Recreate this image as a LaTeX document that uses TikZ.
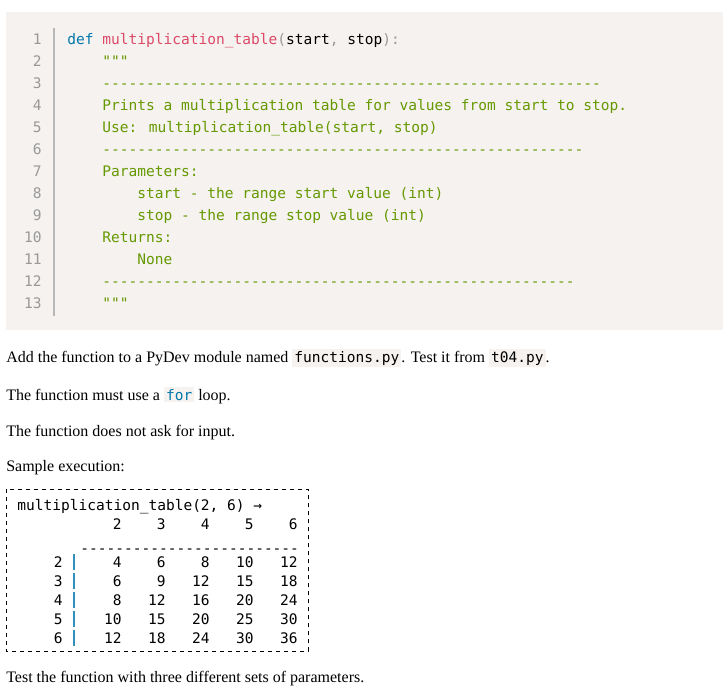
\documentclass[tikz,border=0pt]{standalone}
\usepackage{fontspec}
\setmainfont{Liberation Serif}
\newfontfamily\cmono{DejaVu Sans Mono}
\definecolor{codebg}{HTML}{F5F2F0}
\definecolor{kw}{HTML}{0077AA}
\definecolor{fn}{HTML}{DD4A68}
\definecolor{str}{HTML}{669900}
\definecolor{punc}{HTML}{999999}
\definecolor{lnum}{HTML}{999999}
\newcommand{\cbx}[1]{{\setlength{\fboxsep}{1.5pt}\colorbox{codebg}{\cmono\fontsize{10.9}{13}\selectfont #1}}}
\tikzset{
  code/.style={anchor=base west,inner sep=0pt,font=\cmono\fontsize{10.9}{13}\selectfont},
  lnumst/.style={anchor=base east,inner sep=0pt,text=lnum,font=\cmono\fontsize{10.9}{13}\selectfont},
  prose/.style={anchor=base west,inner sep=0pt,font=\fontsize{12}{14}\selectfont},
  tab/.style={anchor=base east,inner sep=0pt,font=\cmono\fontsize{10.9}{12}\selectfont},
}
\begin{document}
\begin{tikzpicture}[x=0.75pt,y=-0.75pt]
\useasboundingbox (0,0) rectangle (723,697);
\fill[codebg] (6,12) rectangle (723,330);
\draw[lnum!70,line width=0.8pt] (54,28) -- (54,316);
\foreach \n in {1,...,13}{
  \node[lnumst] (ln\n) at (42,{44+22*(\n-1)}) {\n};
}
\node[code] (c1) at (67,44) {\textcolor{kw}{def} \textcolor{fn}{multiplication\_table}\textcolor{punc}{(}start\textcolor{punc}{,} stop\textcolor{punc}{):}};
\node[code,text=str] (c2) at (67,66) {\ \ \ \ """};
\node[code,text=str] (c3) at (67,88) {\ \ \ \ ---------------------------------------------------------};
\node[code,text=str] (c4) at (67,110) {\ \ \ \ Prints a multiplication table for values from start to stop.};
\node[code,text=str] (c5) at (67,132) {\ \ \ \ Use: multiplication\_table(start, stop)};
\node[code,text=str] (c6) at (67,154) {\ \ \ \ -------------------------------------------------------};
\node[code,text=str] (c7) at (67,176) {\ \ \ \ Parameters:};
\node[code,text=str] (c8) at (67,198) {\ \ \ \ \ \ \ \ start - the range start value (int)};
\node[code,text=str] (c9) at (67,220) {\ \ \ \ \ \ \ \ stop - the range stop value (int)};
\node[code,text=str] (c10) at (67,242) {\ \ \ \ Returns:};
\node[code,text=str] (c11) at (67,264) {\ \ \ \ \ \ \ \ None};
\node[code,text=str] (c12) at (67,286) {\ \ \ \ ------------------------------------------------------};
\node[code,text=str] (c13) at (67,308) {\ \ \ \ """};
\node[prose] (p1) at (6,362) {Add the function to a PyDev module named \cbx{functions.py}. Test it from \cbx{t04.py}.};
\node[prose] (p2) at (6,400) {The function must use a \cbx{\textcolor{kw}{for}} loop.};
\node[prose] (p3) at (6,436) {The function does not ask for input.};
\node[prose] (p4) at (6,471) {Sample execution:};
\draw[dashed,line width=0.6pt] (6,489) rectangle (308,651);
\node[tab,anchor=base west] (t0) at (17,510) {multiplication\_table(2, 6) →};
\foreach \c/\x in {2/122,3/166,4/210,5/254,6/298}{
  \node[tab] (h\c) at (\x,529) {\c};
}
\node[tab,anchor=base west] (dl) at (80,553) {-------------------------};
\foreach \r [count=\i] in {2,...,6}{
  \pgfmathsetmacro{\yy}{567+19*(\i-1)}
  \node[tab] (r\r) at (63,\yy) {\r};
  \draw[kw!80,line width=0.8pt] (74,\yy-13) -- (74,\yy+3);
  \foreach \c/\x in {2/122,3/166,4/210,5/254,6/298}{
    \pgfmathtruncatemacro{\v}{\r*\c}
    \node[tab] (v\r\c) at (\x,\yy) {\v};
  }
}
\node[prose] (p5) at (6,682) {Test the function with three different sets of parameters.};
\end{tikzpicture}
\end{document}
